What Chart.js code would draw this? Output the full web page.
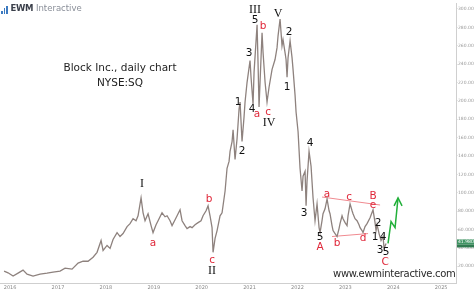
<!DOCTYPE html>
<html>
<head>
<meta charset="utf-8">
<script src="https://cdn.jsdelivr.net/npm/chart.js@4"></script>
<style>
  body { margin: 0; background: #fff; }
  #wrap { position: relative; width: 474px; height: 292px; overflow: hidden; }
  #logo { position: absolute; left: 1px; top: 3px; font-family: "DejaVu Sans", sans-serif; font-size: 8.5px; line-height: 11px; white-space: nowrap; }
  #logo b { color: #3a3f4a; letter-spacing: -0.3px; }
  #logo span { color: #8a8f99; }
  #logo i { display: inline-block; vertical-align: bottom; width: 1.5px; background: #3c7ac0; margin-right: 1px; }
  .title { position: absolute; width: 240px; left: 0px; text-align: center; font-family: "DejaVu Sans", sans-serif; font-size: 10.5px; color: #1e1e1e; white-space: nowrap; }
  #site { position: absolute; left: 333px; top: 268px; font-family: "DejaVu Sans", sans-serif; font-size: 10px; letter-spacing: -0.3px; color: #2a2a2a; white-space: nowrap; }
</style>
</head>
<body>
<div id="wrap">
  <canvas id="grafico" width="474" height="292"></canvas>
  <div id="logo"><i style="height:3px"></i><i style="height:6px"></i><i style="height:8px;margin-right:3px"></i><b>EWM</b> <span>Interactive</span></div>
  <div class="title" style="top:61px">Block Inc., daily chart</div>
  <div class="title" style="top:76px">NYSE:SQ</div>
  <div id="site">www.ewminteractive.com</div>
</div>
<script>
// ejes
const yearTicks = [2016, 2017, 2018, 2019, 2020, 2021, 2022, 2023, 2024, 2025];
const priceTicks = [20, 40, 60, 80, 100, 120, 140, 160, 180, 200, 220, 240, 260, 280, 300];
const lastPriceText = "41.9800";

// precio (aprox.)
const priceYears = [
  2015.875, 2015.958, 2016.063, 2016.167, 2016.271, 2016.355, 2016.48, 2016.626, 2016.772, 2016.898,
  2017.044, 2017.148, 2017.294, 2017.42, 2017.524, 2017.628, 2017.733, 2017.816, 2017.9, 2017.942,
  2018.025, 2018.088, 2018.15, 2018.234, 2018.296, 2018.359, 2018.443, 2018.505, 2018.568, 2018.63,
  2018.672, 2018.735, 2018.777, 2018.818, 2018.881, 2018.944, 2018.985, 2019.048, 2019.09, 2019.173,
  2019.236, 2019.278, 2019.34, 2019.382, 2019.445, 2019.487, 2019.549, 2019.591, 2019.653, 2019.695,
  2019.758, 2019.8, 2019.862, 2019.925, 2019.987, 2020.029, 2020.092, 2020.134, 2020.175, 2020.217,
  2020.238, 2020.28, 2020.322, 2020.384, 2020.426, 2020.489, 2020.53, 2020.572, 2020.593, 2020.635,
  2020.656, 2020.697, 2020.739, 2020.781, 2020.802, 2020.843, 2020.885, 2020.906, 2020.948, 2021.01,
  2021.031, 2021.073, 2021.094, 2021.157, 2021.177, 2021.198, 2021.219, 2021.261, 2021.282, 2021.324,
  2021.365, 2021.407, 2021.47, 2021.532, 2021.574, 2021.595, 2021.637, 2021.678, 2021.699, 2021.741,
  2021.762, 2021.783, 2021.804, 2021.846, 2021.887, 2021.908, 2021.95, 2021.971, 2022.013, 2022.054,
  2022.096, 2022.117, 2022.159, 2022.18, 2022.2, 2022.242, 2022.284, 2022.326, 2022.367, 2022.409,
  2022.451, 2022.472, 2022.513, 2022.534, 2022.576, 2022.618, 2022.66, 2022.68, 2022.722, 2022.743,
  2022.785, 2022.827, 2022.868, 2022.889, 2022.931, 2022.952, 2022.994, 2023.035, 2023.056, 2023.098,
  2023.14, 2023.16, 2023.202, 2023.244, 2023.285, 2023.307, 2023.348, 2023.369, 2023.411, 2023.453,
  2023.516, 2023.578, 2023.62, 2023.641, 2023.662, 2023.704, 2023.745, 2023.787, 2023.808, 2023.85
];
const priceValues = [
  14.6, 12.8, 9.3, 12.5, 15.7, 11.4, 9.3, 11.4, 12.5, 13.6,
  14.6, 17.9, 16.8, 23.3, 25.4, 25.4, 29.7, 35.1, 48, 37.2,
  42.6, 39.4, 49.1, 56.6, 52.3, 55.5, 63.1, 66.3, 71.7, 69.5,
  74.9, 94.3, 78.1, 69.5, 77.1, 64.2, 56.6, 65.2, 69.5, 78.1,
  73.8, 74.9, 69.5, 64.2, 70.6, 74.9, 81.4, 69.5, 64.2, 60.9,
  63.1, 62, 65.2, 67.4, 69.5, 74.9, 80.3, 85.7, 74.9, 62,
  35.1, 50.2, 58.8, 74.9, 78.1, 101.8, 126.6, 134.1, 144.9, 155.7,
  168.6, 136.3, 158.8, 191.1, 198.7, 155.7, 182.6, 198.7, 220.2, 243.9,
  225.6, 196.5, 231, 282.7, 241.8, 193.3, 220.2, 274.1, 252.6, 220.2,
  198.7, 214.8, 234.2, 245, 257.9, 270.8, 289.1, 260, 266.5, 252.6,
  245, 225.6, 247.1, 265.4, 247.1, 234.2, 206.2, 187.9, 166.4, 126.6,
  101.8, 117.9, 123.3, 85.7, 112.6, 144.9, 128.8, 94.3, 69.5, 87.8,
  62, 56.6, 69.5, 77.1, 82.5, 93.2, 80.3, 77.1, 64.2, 58.8,
  55.5, 52.3, 60.9, 66.3, 74.9, 71.7, 67.4, 64.2, 74.9, 87.8,
  80.3, 77.1, 71.7, 69.5, 65.2, 62, 58.8, 56.6, 63.1, 66.3,
  72.7, 81.4, 67.4, 58.8, 65.2, 55.5, 48, 52.3, 39.4, 44.8
];

// lineas del triangulo y flecha
const upperLineYears = [2022.513, 2023.725];
const upperLineValues = [95.3, 86.6];
const lowerLineYears = [2022.722, 2023.474];
const lowerLineValues = [52.3, 55.5];
const arrowYears = [2023.891, 2023.954, 2024.038, 2024.1];
const arrowValues = [44.8, 68.5, 62, 94.3];
const arrowHeadYears = [2024.017, 2024.1, 2024.184];
const arrowHeadValues = [85.7, 94.3, 85.7];

// etiquetas de ondas
const romanTexts = ["I", "II", "III", "IV", "V"];
const romanYears = [2018.754, 2020.217, 2021.115, 2021.407, 2021.595];
const romanValues = [109.4, 14.6, 298.8, 176, 294.5];

const digitTexts = ["1", "2", "3", "4", "5", "1", "2", "3", "4", "5", "1", "2", "3", "4", "5"];
const digitYears = [2020.76, 2020.843, 2020.99, 2021.052, 2021.115, 2021.783, 2021.825, 2022.138, 2022.263, 2022.472, 2023.62, 2023.683, 2023.725, 2023.787, 2023.85];
const digitValues = [198.7, 145, 251.4, 191.1, 288, 214.8, 275.1, 77.1, 153.4, 51.2, 51.2, 66.3, 37.2, 51.2, 35.1];

const redTexts = ["a", "b", "c", "a", "b", "c", "A", "a", "b", "c", "d", "e", "B", "C"];
const redYears = [2018.985, 2020.154, 2020.217, 2021.157, 2021.282, 2021.386, 2022.472, 2022.618, 2022.827, 2023.077, 2023.369, 2023.578, 2023.578, 2023.829];
const redValues = [44.8, 93.2, 26.5, 185.7, 281.6, 187.9, 40.5, 98.6, 44.8, 95.4, 50.2, 86.8, 96.5, 24.3];

function puntos(xs, ys) {
    return xs.map((x, i) => ({ x: x, y: ys[i] }));
}

const etiquetasOndas = {
    id: 'etiquetasOndas',
    afterDatasetsDraw(chart) {
        const ctx = chart.ctx;
        const sx = chart.scales.x;
        const sy = chart.scales.y;
        ctx.save();
        ctx.textAlign = 'center';
        ctx.textBaseline = 'middle';
        const grupo = (texts, xs, ys, font, color) => {
            ctx.font = font;
            ctx.fillStyle = color;
            for (let i = 0; i < texts.length; i++) {
                ctx.fillText(texts[i], sx.getPixelForValue(xs[i]), sy.getPixelForValue(ys[i]));
            }
        };
        grupo(romanTexts, romanYears, romanValues, '12px "Liberation Serif"', '#111');
        grupo(digitTexts, digitYears, digitValues, '10.5px "DejaVu Sans"', '#111');
        grupo(redTexts, redYears, redValues, '10.5px "DejaVu Sans"', '#e0283a');

        // etiqueta del ultimo precio
        const yLast = sy.getPixelForValue(priceValues[priceValues.length - 1]);
        const xa = sx.right + 1;
        ctx.fillStyle = '#3f9463';
        ctx.fillRect(xa, yLast - 4, chart.width - xa, 5);
        ctx.fillStyle = '#2f7a4f';
        ctx.fillRect(xa, yLast + 1, chart.width - xa, 3);
        ctx.fillStyle = '#fff';
        ctx.font = '4.5px "DejaVu Sans"';
        ctx.textAlign = 'left';
        ctx.fillText(lastPriceText, xa + 1, yLast - 1.5);
        ctx.restore();
    }
};

const myChart = new Chart(document.querySelector('#grafico').getContext('2d'), {
    type: 'line',
    data: {
        datasets: [
            { data: puntos(priceYears, priceValues), borderColor: '#8e827e', borderWidth: 1.3 },
            { data: puntos(upperLineYears, upperLineValues), borderColor: '#f08a90', borderWidth: 1 },
            { data: puntos(lowerLineYears, lowerLineValues), borderColor: '#f08a90', borderWidth: 1 },
            { data: puntos(arrowYears, arrowValues), borderColor: '#22b03a', borderWidth: 1.5 },
            { data: puntos(arrowHeadYears, arrowHeadValues), borderColor: '#22b03a', borderWidth: 1.5 }
        ]
    },
    options: {
        responsive: false,
        animation: false,
        devicePixelRatio: 1,
        layout: { padding: 0 },
        elements: { point: { radius: 0 }, line: { tension: 0 } },
        plugins: { legend: { display: false }, tooltip: { enabled: false } },
        scales: {
            x: {
                type: 'linear',
                min: 2015.79,
                max: 2025.31,
                afterBuildTicks: (scale) => { scale.ticks = yearTicks.map(v => ({ value: v })); },
                afterFit: (scale) => { scale.height = 9; },
                grid: { display: false, drawTicks: false },
                border: { color: '#cfcfcf' },
                ticks: { font: { size: 5, family: 'DejaVu Sans' }, color: '#8a8a8a', padding: 2, maxRotation: 0, autoSkip: false, callback: v => String(v) }
            },
            y: {
                position: 'right',
                min: 1.7,
                max: 306.3,
                afterBuildTicks: (scale) => { scale.ticks = priceTicks.map(v => ({ value: v })); },
                afterFit: (scale) => { scale.width = 18; },
                grid: { drawOnChartArea: false, tickLength: 1.5, color: '#cfcfcf' },
                border: { color: '#cfcfcf' },
                ticks: { font: { size: 4.5, family: 'DejaVu Sans' }, color: '#9a9a9a', padding: 0.5, autoSkip: false, callback: v => v.toFixed(4) }
            }
        }
    },
    plugins: [etiquetasOndas]
});
</script>
</body>
</html>
